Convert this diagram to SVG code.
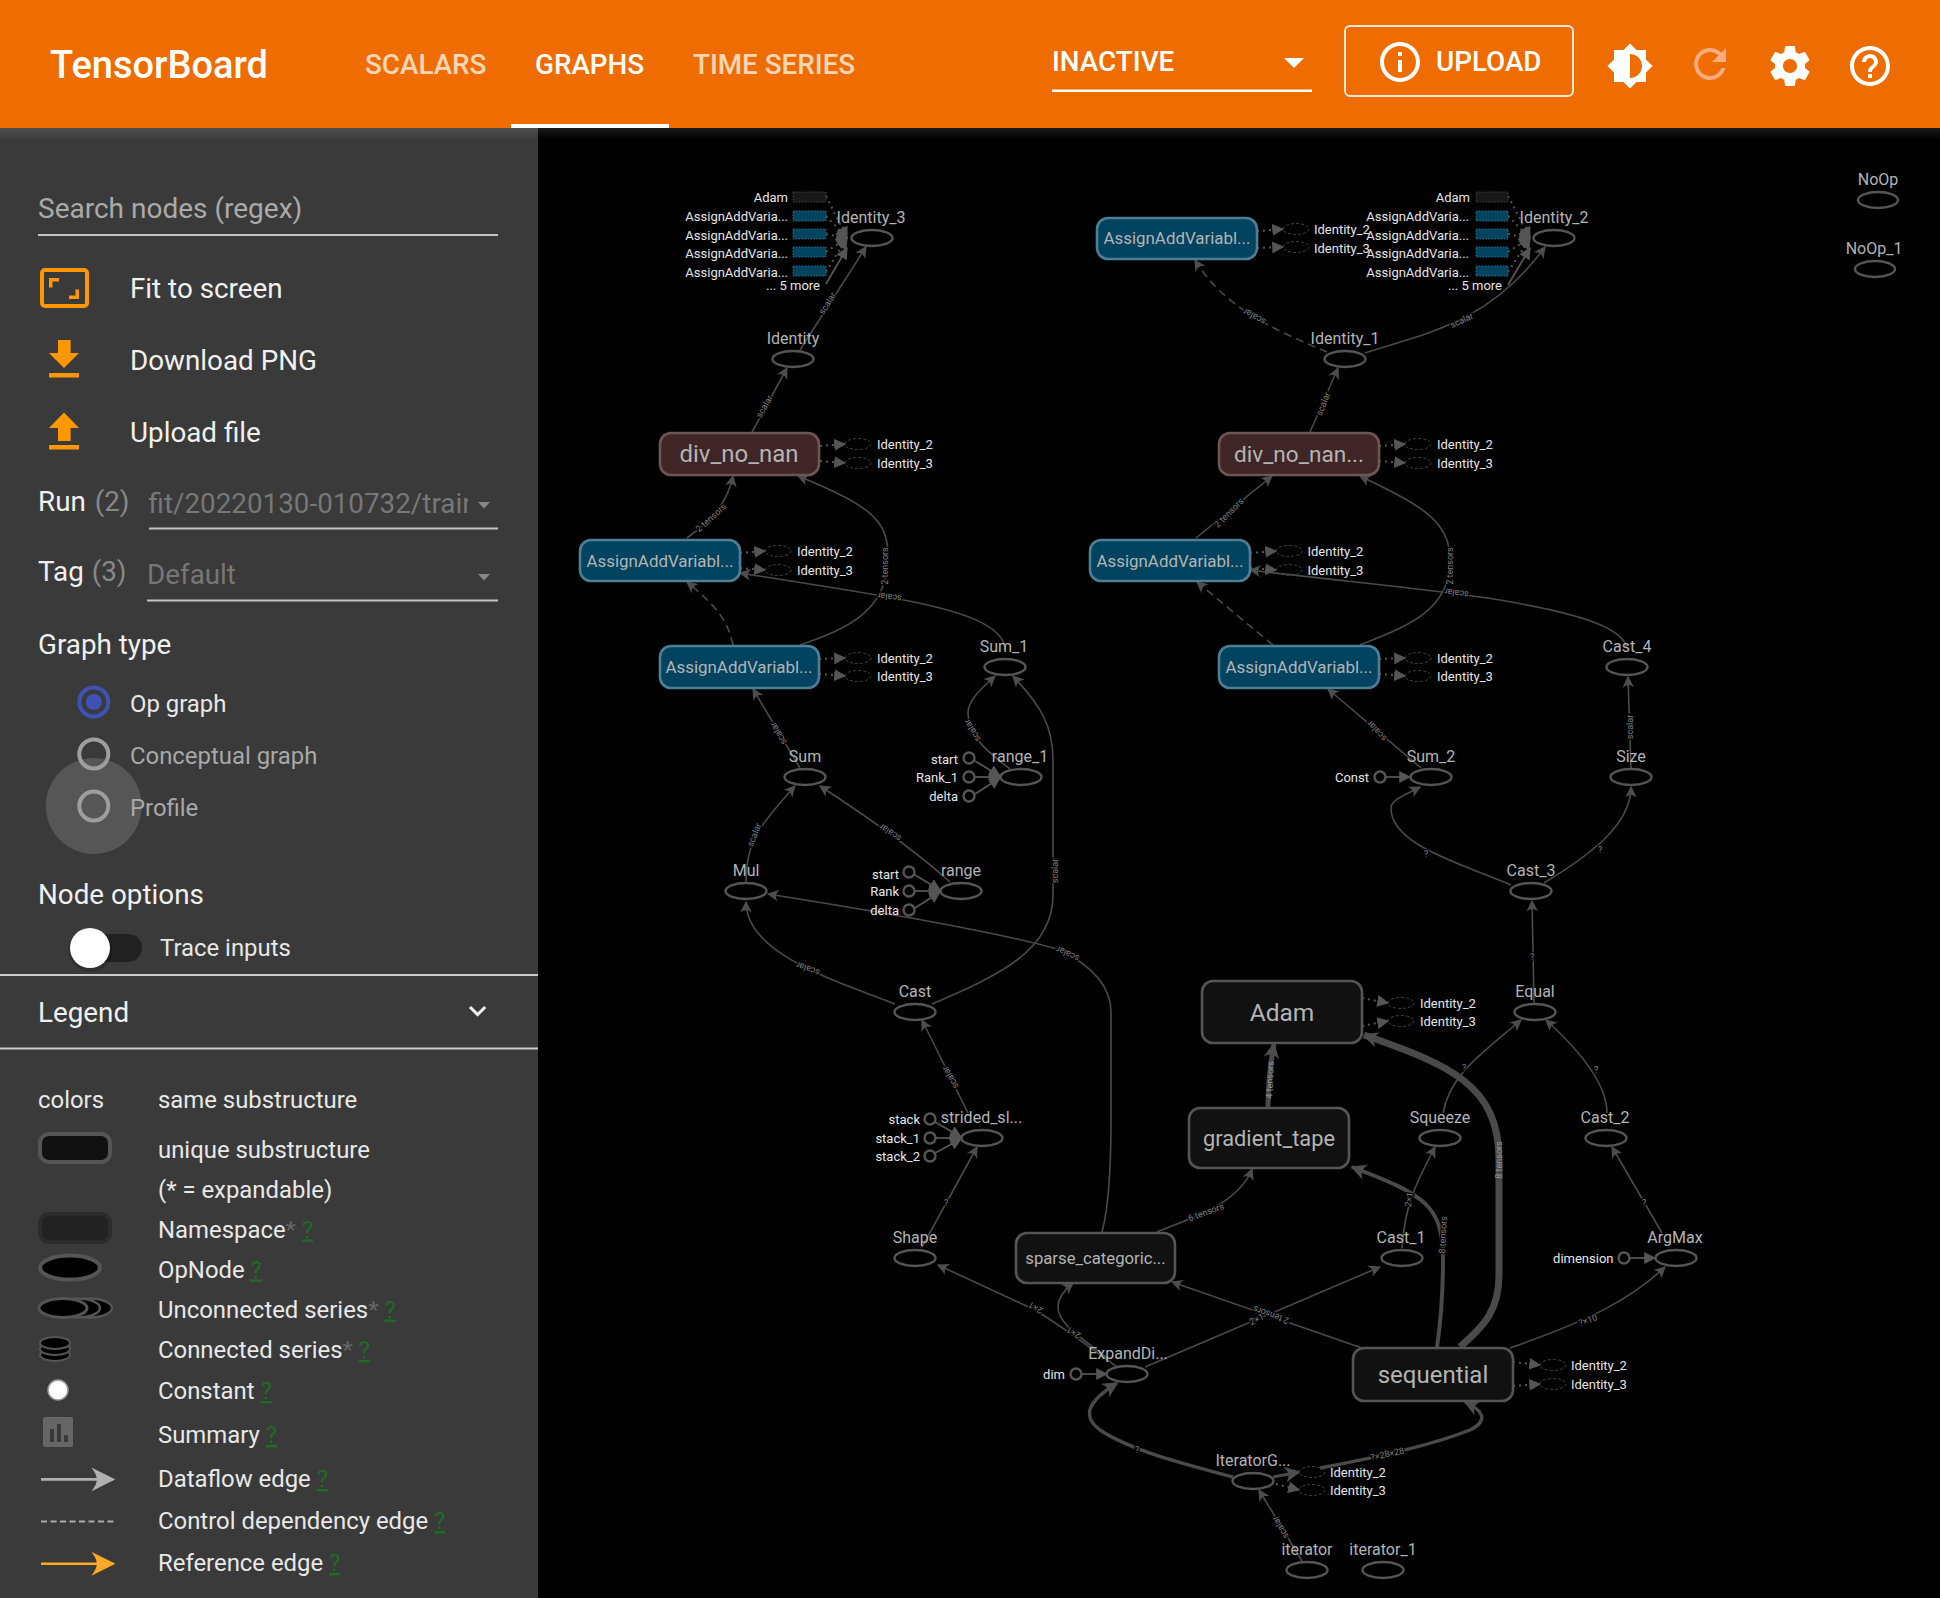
<svg xmlns="http://www.w3.org/2000/svg" width="1940" height="1598" viewBox="0 0 1940 1598">
<defs>
<marker id="a" markerUnits="userSpaceOnUse" markerWidth="12" markerHeight="12" viewBox="0 0 10 10" refX="9" refY="5" orient="auto"><path d="M0 0L10 5L0 10C3 6 3 4 0 0z" fill="#4d4d4d"/></marker>
<marker id="b" markerUnits="userSpaceOnUse" markerWidth="16" markerHeight="16" viewBox="0 0 10 10" refX="9" refY="5" orient="auto"><path d="M0 0L10 5L0 10C3 6 3 4 0 0z" fill="#4d4d4d"/></marker>
<marker id="c" markerUnits="userSpaceOnUse" markerWidth="12" markerHeight="12" viewBox="0 0 10 10" refX="9" refY="5" orient="auto"><path d="M0 0L10 5L0 10z" fill="#555"/></marker>
<marker id="lg" markerUnits="userSpaceOnUse" markerWidth="24" markerHeight="24" viewBox="0 0 10 10" refX="9" refY="5" orient="auto"><path d="M0 0L10 5L0 10C3 6 3 4 0 0z" fill="#b0b0b0"/></marker>
<marker id="lo" markerUnits="userSpaceOnUse" markerWidth="24" markerHeight="24" viewBox="0 0 10 10" refX="9" refY="5" orient="auto"><path d="M0 0L10 5L0 10C3 6 3 4 0 0z" fill="#ffa726"/></marker>
<linearGradient id="s1" x1="0" y1="0" x2="0" y2="1"><stop offset="0" stop-color="#4e4e4e"/><stop offset="1" stop-color="#3a3a3a"/></linearGradient>
<linearGradient id="s2" x1="0" y1="0" x2="0" y2="1"><stop offset="0" stop-color="#1c1c1c"/><stop offset="1" stop-color="#000"/></linearGradient>
<clipPath id="runclip"><rect x="145" y="480" width="323" height="45"/></clipPath>
</defs>
<style>
text{font-family:Roboto,"Noto Sans",sans-serif}
.e{fill:none;stroke:#4a4a4a;stroke-width:1.6;marker-end:url(#a)}
.d{fill:none;stroke:#4a4a4a;stroke-width:1.6;stroke-dasharray:8 5;marker-end:url(#a)}
.t3{stroke-width:3.4;marker-end:url(#b)}
.o{fill:none;stroke:#555;stroke-width:2;stroke-dasharray:2 4;marker-end:url(#c)}
.k{fill:none;stroke:#555;stroke-width:1.8;marker-end:url(#c)}
.el{font-size:9px;fill:#808080;text-anchor:middle;stroke:#000;stroke-width:2.5px;paint-order:stroke}
.op{fill:#000;stroke:#555;stroke-width:2.4}
.cn{fill:#000;stroke:#555;stroke-width:2.4}
.an{fill:none;stroke:#444;stroke-width:1;stroke-dasharray:3 2}
.nl{font-size:16px;fill:#b4b4b4;text-anchor:middle}
.at{font-size:13px;fill:#e6e6e6}
.ar{font-size:13px;fill:#e6e6e6;text-anchor:end}
.bx{stroke-width:2.6}
.mt{fill:#111;stroke:#555}
.bl{fill:#02435f;stroke:#4e7e94}
.rd{fill:#3f2526;stroke:#6d5555}
.bt{fill:#b4b4b4;text-anchor:middle}
.sm{fill:#02435f;stroke:#2a6f8c;stroke-width:1;stroke-dasharray:1.500 1.500}
.sd{fill:#181818;stroke:#444;stroke-width:1;stroke-dasharray:1.500 1.500}
.tab{font-size:27.8px;font-weight:500;fill:#fff}
.sb{font-size:27.8px;fill:#f0f0f0}
.lg{font-size:23.9px;fill:#e8e8e8}
.st{fill:#666}
.q{fill:#1f6b25;text-decoration:underline}
.un{stroke:#c4c4c4;stroke-width:2;fill:none}
</style>

<g id="background">
<rect width="1940" height="1598" fill="#000"/>
<rect x="538" y="128" width="1402" height="11" fill="url(#s2)"/>
<rect x="0" y="128" width="538" height="1470" fill="#3a3a3a"/>
<rect x="0" y="128" width="538" height="12" fill="url(#s1)"/>
<rect width="1940" height="128" fill="#ef6c00"/>
</g>

<g id="header">
<text x="50" y="77.500" font-size="38" font-weight="500" fill="#fff">TensorBoard</text>
<text x="365" y="74" class="tab" style="opacity:.72">SCALARS</text>
<text x="535" y="74" class="tab">GRAPHS</text>
<text x="693" y="74" class="tab" style="opacity:.72">TIME SERIES</text>
<rect x="511" y="124" width="158" height="4" fill="#fff"/>
<text x="1052" y="71" font-size="27.800" font-weight="500" fill="#fff">INACTIVE</text>
<path d="M1284 58h20l-10 10z" fill="#fff"/>
<rect x="1052" y="89.500" width="260" height="2.500" fill="#fff"/>
<rect x="1345" y="26" width="228" height="70" rx="5" fill="none" stroke="#fff" stroke-opacity=".85" stroke-width="2"/>
<path transform="translate(1376 38) scale(2)" fill="#fff" d="M11 7h2v2h-2zm0 4h2v6h-2zm1-9C6.48 2 2 6.48 2 12s4.48 10 10 10 10-4.48 10-10S17.52 2 12 2zm0 18c-4.41 0-8-3.59-8-8s3.59-8 8-8 8 3.59 8 8-3.59 8-8 8z"/>
<text x="1436" y="71" font-size="27.800" font-weight="500" fill="#fff">UPLOAD</text>
<path transform="translate(1606 42) scale(2)" fill="#fff" fill-rule="evenodd" d="M20 15.31L23.31 12 20 8.69V4h-4.69L12 .69 8.69 4H4v4.69L.69 12 4 15.31V20h4.69L12 23.31 15.31 20H20v-4.69zM12 18V6c3.31 0 6 2.69 6 6s-2.69 6-6 6z"/>
<path transform="translate(1686 40) scale(2)" fill="#f8ad7e" d="M17.65 6.35C16.2 4.9 14.21 4 12 4c-4.42 0-7.99 3.58-7.99 8s3.57 8 7.99 8c3.73 0 6.84-2.55 7.73-6h-2.08c-.82 2.33-3.04 4-5.65 4-3.31 0-6-2.69-6-6s2.69-6 6-6c1.66 0 3.14.69 4.22 1.78L13 11h7V4l-2.35 2.35z"/>
<path transform="translate(1766 42) scale(2)" fill="#fff" d="M19.43 12.98c.04-.32.07-.64.07-.98s-.03-.66-.07-.98l2.11-1.65c.19-.15.24-.42.12-.64l-2-3.46c-.12-.22-.39-.3-.61-.22l-2.49 1c-.52-.4-1.08-.73-1.69-.98l-.38-2.65C14.46 2.18 14.25 2 14 2h-4c-.25 0-.46.18-.49.42l-.38 2.65c-.61.25-1.17.59-1.69.98l-2.49-1c-.23-.09-.49 0-.61.22l-2 3.46c-.13.22-.07.49.12.64l2.11 1.65c-.04.32-.07.65-.07.98s.03.66.07.98l-2.11 1.65c-.19.15-.24.42-.12.64l2 3.46c.12.22.39.3.61.22l2.49-1c.52.4 1.08.73 1.69.98l.38 2.65c.03.24.24.42.49.42h4c.25 0 .46-.18.49-.42l.38-2.65c.61-.25 1.17-.59 1.69-.98l2.49 1c.23.09.49 0 .61-.22l2-3.46c.12-.22.07-.49-.12-.64l-2.11-1.65zM12 15.5c-1.93 0-3.5-1.57-3.5-3.5s1.57-3.5 3.5-3.5 3.5 1.57 3.5 3.5-1.57 3.5-3.5 3.5z"/>
<path transform="translate(1846 42) scale(2)" fill="#fff" d="M11 18h2v-2h-2v2zm1-16C6.48 2 2 6.48 2 12s4.48 10 10 10 10-4.48 10-10S17.52 2 12 2zm0 18c-4.41 0-8-3.59-8-8s3.59-8 8-8 8 3.59 8 8-3.59 8-8 8zm0-14c-2.21 0-4 1.79-4 4h2c0-1.1.9-2 2-2s2 .9 2 2c0 2-3 1.75-3 5h2c0-2.25 3-2.5 3-5 0-2.21-1.79-4-4-4z"/>
</g>

<g id="sidebar">
<text x="38" y="218" font-size="28" fill="#aaa">Search nodes (regex)</text>
<path class="un" d="M38 235H498"/>
<rect x="42" y="270" width="45" height="36" rx="3" fill="none" stroke="#ff9800" stroke-width="4"/>
<path d="M49 278h10v3.500h-6.500v6H49zM79 299H69v-3.500h6.500v-6H79z" fill="#ff9800"/>
<text x="130" y="298" class="sb">Fit to screen</text>
<path d="M58 340h12.600v13H79L64 368 49 353h9zM49 373h30v4.500H49z" fill="#ff9800"/>
<text x="130" y="370" class="sb">Download PNG</text>
<path d="M64 412.500 79 428h-8.400v13H58V428h-9zM49 445h30v4.500H49z" fill="#ff9800"/>
<text x="130" y="442" class="sb">Upload file</text>
<text x="38" y="510.500" class="sb">Run <tspan dx="2" fill="#888">(2)</tspan></text>
<text x="148.500" y="513" font-size="27.800" fill="#777" clip-path="url(#runclip)">fit/20220130-010732/train</text>
<path d="M478 502h12l-6 6.500z" fill="#888"/>
<path class="un" d="M149 528.600H498"/>
<text x="38" y="581" class="sb">Tag <tspan dx="1" fill="#888">(3)</tspan></text>
<text x="147" y="584" font-size="27.800" fill="#777">Default</text>
<path d="M478 574h12l-6 6.500z" fill="#888"/>
<path class="un" d="M147 600.600H498"/>
<text x="38" y="654" class="sb">Graph type</text>
<circle cx="93.800" cy="806" r="48" fill="#565656"/>
<circle cx="93.800" cy="702" r="14.500" fill="none" stroke="#3f51b5" stroke-width="4"/>
<circle cx="93.800" cy="702" r="8" fill="#3f51b5"/>
<text x="130" y="711.500" class="lg">Op graph</text>
<circle cx="93.800" cy="754" r="14.500" fill="none" stroke="#9e9e9e" stroke-width="4"/>
<text x="130" y="764" class="lg" style="fill:#a8a8a8">Conceptual graph</text>
<circle cx="93.800" cy="806" r="14.500" fill="none" stroke="#9e9e9e" stroke-width="4"/>
<text x="130" y="816" class="lg" style="fill:#a8a8a8">Profile</text>
<text x="38" y="904" class="sb">Node options</text>
<rect x="70" y="934" width="72" height="28" rx="14" fill="#222"/>
<circle cx="90.500" cy="950" r="22" fill="#000" opacity=".18"/>
<circle cx="90" cy="948" r="20" fill="#fff"/>
<text x="160" y="956" class="lg">Trace inputs</text>
<path d="M0 975H538" stroke="#ccc" stroke-width="2"/>
<text x="38" y="1022" class="sb">Legend</text>
<path d="M470 1007l7.600 7.600 7.600-7.600" fill="none" stroke="#eee" stroke-width="3"/>
<path d="M0 1048.600H538" stroke="#ccc" stroke-width="2"/>
</g>

<g id="legend">
<text x="38" y="1107.500" class="lg">colors</text>
<text x="158" y="1107.500" class="lg">same substructure</text>
<rect x="40" y="1134" width="70" height="28" rx="9" fill="#111" stroke="#555" stroke-width="4"/>
<text x="158" y="1157.500" class="lg">unique substructure</text>
<text x="158" y="1197.500" class="lg">(* = expandable)</text>
<rect x="40" y="1214" width="70" height="28" rx="9" fill="#222" stroke="#2c2c2c" stroke-width="4"/>
<text x="158" y="1237.500" class="lg">Namespace<tspan class="st">*</tspan> <tspan class="q">?</tspan></text>
<ellipse cx="70" cy="1267.600" rx="30" ry="12" fill="#000" stroke="#555" stroke-width="4"/>
<text x="158" y="1277.500" class="lg">OpNode <tspan class="q">?</tspan></text>
<ellipse cx="90" cy="1308" rx="22" ry="9.500" fill="#000" stroke="#555" stroke-width="2.500"/>
<ellipse cx="78" cy="1308" rx="22" ry="9.500" fill="#000" stroke="#555" stroke-width="2.500"/>
<ellipse cx="63" cy="1308" rx="24" ry="9.500" fill="#000" stroke="#555" stroke-width="3"/>
<text x="158" y="1317.500" class="lg">Unconnected series<tspan class="st">*</tspan> <tspan class="q">?</tspan></text>
<ellipse cx="55" cy="1355" rx="15" ry="6" fill="#000" stroke="#555" stroke-width="2"/>
<ellipse cx="55" cy="1349" rx="15" ry="6" fill="#000" stroke="#555" stroke-width="2"/>
<ellipse cx="55" cy="1343" rx="15" ry="6" fill="#000" stroke="#555" stroke-width="2"/>
<text x="158" y="1358" class="lg">Connected series<tspan class="st">*</tspan> <tspan class="q">?</tspan></text>
<circle cx="58" cy="1390" r="10" fill="#fff" stroke="#999" stroke-width="1.500"/>
<text x="158" y="1399" class="lg">Constant <tspan class="q">?</tspan></text>
<rect x="43" y="1417" width="30" height="30" rx="2" fill="#666"/>
<path d="M50 1429h4v13h-4zM57 1424h4v18h-4zM64 1435h4v7h-4z" fill="#3a3a3a"/>
<text x="158" y="1443" class="lg">Summary <tspan class="q">?</tspan></text>
<path d="M41 1479.400H113" stroke="#b0b0b0" stroke-width="2.600" fill="none" marker-end="url(#lg)"/>
<text x="158" y="1487" class="lg">Dataflow edge <tspan class="q">?</tspan></text>
<path d="M41 1521.600H114" stroke="#aaa" stroke-width="2" stroke-dasharray="6 3.500" fill="none"/>
<text x="158" y="1529" class="lg">Control dependency edge <tspan class="q">?</tspan></text>
<path d="M41 1563.800H113" stroke="#ffa726" stroke-width="2.600" fill="none" marker-end="url(#lo)"/>
<text x="158" y="1571" class="lg">Reference edge <tspan class="q">?</tspan></text>
</g>

<g id="connectors">
<path class="e" d="M800 350L866 247"/>
<path class="e" d="M752 432L787 368"/>
<path class="e" d="M687 538C715 518 728 500 733 476"/>
<path class="e" d="M800 645C850 628 888 610 888 556C888 520 870 505 798 476"/>
<path class="e" d="M1005 650C1005 625 960 610 893 598C850 590 790 581 740 573"/>
<path class="d" d="M733 645C728 620 715 605 687 582"/>
<path class="e" d="M800 768L753 689"/>
<path class="e" d="M746 882C746 845 755 830 795 786"/>
<path class="e" d="M950 882C920 855 880 825 820 786"/>
<path class="e" d="M1010 769C985 750 968 735 968 713C968 700 982 688 995 676"/>
<path class="e" d="M932 1004C1000 975 1053 950 1053 895L1053 760C1053 725 1040 705 1013 676"/>
<path class="e" d="M895 1004C840 982 746 955 746 902"/>
<path class="e" d="M1102 1232C1108 1210 1111 1180 1111 1120L1111 1012C1111 985 1090 965 1060 950C1010 935 900 915 768 894"/>
<path class="e" d="M968 1113L922 1020"/>
<path class="e" d="M922 1247L977 1147"/>
<path class="e" d="M1117 1367C1080 1340 1060 1325 1035 1310L938 1265"/>
<path class="e" d="M1107 1358C1085 1340 1058 1325 1058 1307C1058 1298 1064 1290 1073 1283"/>
<path class="e" d="M1145 1367L1380 1267"/>
<path class="e" d="M1362 1348L1172 1282"/>
<path class="e" d="M1157 1232C1190 1218 1238 1205 1252 1169"/>
<path class="e t3" d="M1233 1477C1180 1463 1130 1450 1100 1430C1080 1415 1090 1400 1117 1383"/>
<path class="e t3" d="M1320 1468C1390 1455 1440 1442 1470 1430C1490 1420 1482 1410 1465 1402"/>
<path class="e" d="M1302 1561L1259 1490"/>
<path class="d" d="M1327 352C1280 332 1225 310 1195 260"/>
<path class="e" d="M1365 353C1430 332 1490 322 1545 247"/>
<path class="e" d="M1310 432L1338 368"/>
<path class="e" d="M1196 538L1272 476"/>
<path class="e" d="M1360 645C1410 625 1450 610 1450 560C1450 520 1420 505 1360 476"/>
<path class="e" d="M1627 647C1620 625 1570 612 1500 600C1440 590 1330 580 1250 570"/>
<path class="d" d="M1273 645L1197 582"/>
<path class="e" d="M1421 768L1328 689"/>
<path class="e" d="M1511 885C1460 863 1391 845 1391 808C1391 800 1405 795 1420 787"/>
<path class="e" d="M1544 883C1590 855 1631 825 1631 787"/>
<path class="e" d="M1631 768L1628 677"/>
<path class="e" d="M1534 1003L1532 901"/>
<path class="e" d="M1443 1113C1450 1075 1480 1055 1521 1020"/>
<path class="e" d="M1607 1113C1607 1090 1590 1060 1546 1020"/>
<path class="e" d="M1662 1233L1612 1147"/>
<path class="e" d="M1402 1248C1405 1205 1415 1185 1435 1147"/>
<path class="e" d="M1510 1348C1590 1320 1630 1300 1665 1267"/>
<path class="e t3" d="M1437 1347C1441 1320 1443 1290 1443 1260C1443 1205 1425 1195 1352 1167" style="stroke-width:4"/>
<path class="e" d="M1460 1347C1485 1325 1499 1310 1499 1275L1499 1160C1499 1085 1450 1065 1364 1035" style="stroke-width:7;marker-end:url(#b)"/>
<path class="e" d="M1268 1107C1268 1085 1270 1065 1274 1044" style="stroke-width:5;marker-end:url(#b)"/>
<g>
<path class="o" d="M826 196L847 238"/><path class="o" d="M826 216L847 238"/><path class="o" d="M826 234L847 238"/><path class="o" d="M826 252L847 238"/><path class="o" d="M826 272L847 238"/><path class="k" d="M826 284L847 248"/>
<path class="o" d="M1508 196L1530 238"/><path class="o" d="M1508 216L1530 238"/><path class="o" d="M1508 234L1530 238"/><path class="o" d="M1508 252L1530 238"/><path class="o" d="M1508 272L1530 238"/><path class="k" d="M1508 285L1530 248"/>
<path class="o" d="M820 446L845 444"/><path class="o" d="M820 461L845 463"/>
<path class="o" d="M1379 446L1405 444"/><path class="o" d="M1379 461L1405 463"/>
<path class="o" d="M740 553L765 551"/><path class="o" d="M740 568L765 570"/>
<path class="o" d="M1250 553L1276 551"/><path class="o" d="M1250 568L1276 570"/>
<path class="o" d="M819 659L845 658"/><path class="o" d="M819 674L845 676"/>
<path class="o" d="M1379 659L1405 658"/><path class="o" d="M1379 674L1405 676"/>
<path class="o" d="M1257 231L1283 229"/><path class="o" d="M1257 248L1283 247"/>
<path class="o" d="M1362 998L1388 1003"/><path class="o" d="M1362 1026L1388 1021"/>
<path class="o" d="M1513 1362L1540 1365"/><path class="o" d="M1513 1386L1540 1384"/>
<path class="o" d="M1276 1484L1299 1490"/><path class="e" d="M1273 1477L1299 1472" style="stroke-width:3;marker-end:url(#b)"/>
<path class="k" d="M975 761L1000 776"/><path class="k" d="M975 777H1000"/><path class="k" d="M975 794L1000 778"/>
<path class="k" d="M915 875L940 890"/><path class="k" d="M915 891H940"/><path class="k" d="M915 908L940 892"/>
<path class="k" d="M935 1122L961 1137"/><path class="k" d="M936 1138H961"/><path class="k" d="M935 1153L961 1139"/>
<path class="k" d="M1386 777H1410"/><path class="k" d="M1082 1374H1107"/><path class="k" d="M1630 1258H1655"/>
</g>
<g>
<text class="el" transform="translate(830 305) rotate(-58)">scalar</text>
<text class="el" transform="translate(767 408) rotate(-60)">scalar</text>
<text class="el" transform="translate(713 520) rotate(-42)">2 tensors</text>
<text class="el" transform="translate(888 566) rotate(-90)">2 tensors</text>
<text class="el" transform="translate(890 594) rotate(188)">scalar</text>
<text class="el" transform="translate(781 732) rotate(240)">scalar</text>
<text class="el" transform="translate(757 836) rotate(-68)">scalar</text>
<text class="el" transform="translate(892 830) rotate(215)">scalar</text>
<text class="el" transform="translate(975 729) rotate(240)">scalar</text>
<text class="el" transform="translate(1058 871) rotate(-90)">scalar</text>
<text class="el" transform="translate(809 966) rotate(200)">scalar</text>
<text class="el" transform="translate(1069 951) rotate(205)">scalar</text>
<text class="el" transform="translate(953 1076) rotate(240)">scalar</text>
<text class="el" transform="translate(946 1206)">?</text>
<text class="el" transform="translate(1037 1305) rotate(210)">2×1</text>
<text class="el" transform="translate(1075 1330) rotate(210)">2×1</text>
<text class="el" transform="translate(1258 1322) rotate(-25)">2×1</text>
<text class="el" transform="translate(1272 1312) rotate(200)">2 tensors</text>
<text class="el" transform="translate(1207 1215) rotate(-20)">6 tensors</text>
<text class="el" transform="translate(1137 1453)">?</text>
<text class="el" transform="translate(1388 1457) rotate(-12)">?×28×28</text>
<text class="el" transform="translate(1283 1526) rotate(240)">scalar</text>
<text class="el" transform="translate(1256 314) rotate(210)">scalar</text>
<text class="el" transform="translate(1463 323) rotate(-25)">scalar</text>
<text class="el" transform="translate(1326 405) rotate(-68)">scalar</text>
<text class="el" transform="translate(1231 515) rotate(-45)">2 tensors</text>
<text class="el" transform="translate(1453 566) rotate(-90)">2 tensors</text>
<text class="el" transform="translate(1457 590) rotate(188)">scalar</text>
<text class="el" transform="translate(1379 729) rotate(228)">scalar</text>
<text class="el" transform="translate(1426 857)">?</text>
<text class="el" transform="translate(1600 853)">?</text>
<text class="el" transform="translate(1633 727) rotate(-90)">scalar</text>
<text class="el" transform="translate(1532 960)">?</text>
<text class="el" transform="translate(1464 1071)">?</text>
<text class="el" transform="translate(1596 1073)">?</text>
<text class="el" transform="translate(1644 1206)">?</text>
<text class="el" transform="translate(1412 1200) rotate(-80)">2×1</text>
<text class="el" transform="translate(1589 1323) rotate(-20)">?×10</text>
<text class="el" transform="translate(1446 1235) rotate(-87)">8 tensors</text>
<text class="el" style="stroke:none;fill:#999" transform="translate(1502 1160) rotate(-90)">8 tensors</text>
<text class="el" style="stroke:none;fill:#999" transform="translate(1273 1080) rotate(-88)">4 tensors</text>
</g>
</g>

<g id="n-identity_3"><ellipse class="op" cx="872" cy="238" rx="20.500" ry="8"/><text class="nl" x="871" y="223">Identity_3</text>
<text class="ar" x="788" y="202">Adam</text><rect class="sd" x="793" y="192" width="33" height="10"/>
<text class="ar" x="788" y="221">AssignAddVaria...</text><rect class="sm" x="793" y="211" width="33" height="10"/>
<text class="ar" x="788" y="240">AssignAddVaria...</text><rect class="sm" x="793" y="229" width="33" height="10"/>
<text class="ar" x="788" y="258">AssignAddVaria...</text><rect class="sm" x="793" y="247" width="33" height="10"/>
<text class="ar" x="788" y="277">AssignAddVaria...</text><rect class="sm" x="793" y="266" width="33" height="10"/>
<text class="ar" x="820" y="290">... 5 more</text></g>
<g id="n-identity"><ellipse class="op" cx="793" cy="359" rx="20.500" ry="8"/><text class="nl" x="793" y="344">Identity</text></g>
<g id="n-div_no_nan"><rect class="bx rd" x="660" y="433" width="159" height="42" rx="11"/><text class="bt" x="739" y="462" font-size="24">div_no_nan</text>
<ellipse class="an" cx="858" cy="444" rx="13" ry="5.500"/><ellipse class="an" cx="858" cy="463" rx="13" ry="5.500"/><text class="at" x="877" y="449">Identity_2</text><text class="at" x="877" y="468">Identity_3</text></g>
<g id="n-assign_a"><rect class="bx bl" x="580" y="540" width="160" height="41" rx="11"/><text class="bt" x="660" y="567" font-size="16.900">AssignAddVariabl...</text>
<ellipse class="an" cx="778" cy="551" rx="13" ry="5.500"/><ellipse class="an" cx="778" cy="570" rx="13" ry="5.500"/><text class="at" x="797" y="556">Identity_2</text><text class="at" x="797" y="575">Identity_3</text></g>
<g id="n-assign_b"><rect class="bx bl" x="660" y="646" width="159" height="42" rx="11"/><text class="bt" x="739" y="673" font-size="16.900">AssignAddVariabl...</text>
<ellipse class="an" cx="858" cy="658" rx="13" ry="5.500"/><ellipse class="an" cx="858" cy="676" rx="13" ry="5.500"/><text class="at" x="877" y="663">Identity_2</text><text class="at" x="877" y="681">Identity_3</text></g>
<g id="n-sum_1"><ellipse class="op" cx="1005" cy="667" rx="20.500" ry="8"/><text class="nl" x="1004" y="652">Sum_1</text></g>
<g id="n-sum"><ellipse class="op" cx="805" cy="777" rx="20.500" ry="8"/><text class="nl" x="805" y="762">Sum</text></g>
<g id="n-range_1"><ellipse class="op" cx="1021" cy="777" rx="20.500" ry="8"/><text class="nl" x="1020" y="762">range_1</text>
<circle class="cn" cx="969" cy="758" r="5.500"/><circle class="cn" cx="969" cy="777" r="5.500"/><circle class="cn" cx="969" cy="796" r="5.500"/>
<text class="ar" x="958" y="764">start</text><text class="ar" x="958" y="782">Rank_1</text><text class="ar" x="958" y="801">delta</text></g>
<g id="n-mul"><ellipse class="op" cx="746" cy="891" rx="20.500" ry="8"/><text class="nl" x="746" y="876">Mul</text></g>
<g id="n-range"><ellipse class="op" cx="961" cy="891" rx="20.500" ry="8"/><text class="nl" x="961" y="876">range</text>
<circle class="cn" cx="909" cy="872" r="5.500"/><circle class="cn" cx="909" cy="891" r="5.500"/><circle class="cn" cx="909" cy="910" r="5.500"/>
<text class="ar" x="899" y="879">start</text><text class="ar" x="899" y="896">Rank</text><text class="ar" x="899" y="915">delta</text></g>
<g id="n-cast"><ellipse class="op" cx="915" cy="1012" rx="20.500" ry="8"/><text class="nl" x="915" y="997">Cast</text></g>
<g id="n-strided"><ellipse class="op" cx="982" cy="1138" rx="20.500" ry="8"/><text class="nl" x="981.500" y="1123">strided_sl...</text>
<circle class="cn" cx="930" cy="1119" r="5.500"/><circle class="cn" cx="930" cy="1138" r="5.500"/><circle class="cn" cx="930" cy="1156" r="5.500"/>
<text class="ar" x="920" y="1124">stack</text><text class="ar" x="920" y="1143">stack_1</text><text class="ar" x="920" y="1161">stack_2</text></g>
<g id="n-shape"><ellipse class="op" cx="915" cy="1258" rx="20.500" ry="8"/><text class="nl" x="915" y="1243">Shape</text></g>
<g id="n-sparse"><rect class="bx mt" x="1016" y="1233" width="159" height="50" rx="11"/><text class="bt" x="1095.500" y="1264" font-size="16.700">sparse_categoric...</text></g>
<g id="n-gradient_tape"><rect class="bx mt" x="1189" y="1108" width="160" height="60" rx="11"/><text class="bt" x="1269" y="1146" font-size="21.800">gradient_tape</text></g>
<g id="n-expanddims"><ellipse class="op" cx="1127" cy="1374" rx="20.500" ry="8"/><text class="nl" x="1128" y="1359">ExpandDi...</text>
<circle class="cn" cx="1076" cy="1374" r="5.500"/><text class="ar" x="1065" y="1379">dim</text></g>
<g id="n-iteratorg"><ellipse class="op" cx="1253" cy="1481" rx="20.500" ry="8"/><text class="nl" x="1253" y="1466">IteratorG...</text>
<ellipse class="an" cx="1312" cy="1472" rx="13" ry="5.500"/><ellipse class="an" cx="1312" cy="1490" rx="13" ry="5.500"/><text class="at" x="1330" y="1477">Identity_2</text><text class="at" x="1330" y="1495">Identity_3</text></g>
<g id="n-iterator"><ellipse class="op" cx="1307" cy="1570" rx="20.500" ry="8"/><text class="nl" x="1307" y="1555">iterator</text></g>
<g id="n-iterator_1"><ellipse class="op" cx="1383" cy="1570" rx="20.500" ry="8"/><text class="nl" x="1383" y="1555">iterator_1</text></g>

<g id="n-assign_top"><rect class="bx bl" x="1097" y="218" width="160" height="41" rx="11"/><text class="bt" x="1177" y="244" font-size="16.900">AssignAddVariabl...</text>
<ellipse class="an" cx="1296" cy="229" rx="13" ry="5.500"/><ellipse class="an" cx="1296" cy="247" rx="13" ry="5.500"/><text class="at" x="1314" y="234">Identity_2</text><text class="at" x="1314" y="253">Identity_3</text></g>
<g id="n-identity_2"><ellipse class="op" cx="1554" cy="238" rx="20.500" ry="8"/><text class="nl" x="1554" y="223">Identity_2</text>
<text class="ar" x="1470" y="202">Adam</text><rect class="sd" x="1476" y="192" width="32" height="10"/>
<text class="ar" x="1469" y="221">AssignAddVaria...</text><rect class="sm" x="1476" y="211" width="32" height="10"/>
<text class="ar" x="1469" y="240">AssignAddVaria...</text><rect class="sm" x="1476" y="229" width="32" height="10"/>
<text class="ar" x="1469" y="258">AssignAddVaria...</text><rect class="sm" x="1476" y="247" width="32" height="10"/>
<text class="ar" x="1469" y="277">AssignAddVaria...</text><rect class="sm" x="1476" y="266" width="32" height="10"/>
<text class="ar" x="1502" y="290">... 5 more</text></g>
<g id="n-identity_1"><ellipse class="op" cx="1345" cy="359" rx="20.500" ry="8"/><text class="nl" x="1345" y="344">Identity_1</text></g>
<g id="n-div_no_nan_1"><rect class="bx rd" x="1219" y="433" width="160" height="42" rx="11"/><text class="bt" x="1299" y="462" font-size="22.600">div_no_nan...</text>
<ellipse class="an" cx="1418" cy="444" rx="13" ry="5.500"/><ellipse class="an" cx="1418" cy="463" rx="13" ry="5.500"/><text class="at" x="1437" y="449">Identity_2</text><text class="at" x="1437" y="468">Identity_3</text></g>
<g id="n-assign_c"><rect class="bx bl" x="1090" y="540" width="160" height="41" rx="11"/><text class="bt" x="1170" y="567" font-size="16.900">AssignAddVariabl...</text>
<ellipse class="an" cx="1289" cy="551" rx="13" ry="5.500"/><ellipse class="an" cx="1289" cy="570" rx="13" ry="5.500"/><text class="at" x="1307.500" y="556">Identity_2</text><text class="at" x="1307.500" y="575">Identity_3</text></g>
<g id="n-assign_d"><rect class="bx bl" x="1219" y="646" width="160" height="42" rx="11"/><text class="bt" x="1299" y="673" font-size="16.900">AssignAddVariabl...</text>
<ellipse class="an" cx="1418" cy="658" rx="13" ry="5.500"/><ellipse class="an" cx="1418" cy="676" rx="13" ry="5.500"/><text class="at" x="1437" y="663">Identity_2</text><text class="at" x="1437" y="681">Identity_3</text></g>
<g id="n-cast_4"><ellipse class="op" cx="1627" cy="667" rx="20.500" ry="8"/><text class="nl" x="1627" y="652">Cast_4</text></g>
<g id="n-sum_2"><ellipse class="op" cx="1431" cy="777" rx="20.500" ry="8"/><text class="nl" x="1431" y="762">Sum_2</text>
<circle class="cn" cx="1380" cy="777" r="5.500"/><text class="ar" x="1369" y="782">Const</text></g>
<g id="n-size"><ellipse class="op" cx="1631" cy="777" rx="20.500" ry="8"/><text class="nl" x="1631" y="762">Size</text></g>
<g id="n-cast_3"><ellipse class="op" cx="1531" cy="891" rx="20.500" ry="8"/><text class="nl" x="1531" y="876">Cast_3</text></g>
<g id="n-equal"><ellipse class="op" cx="1535" cy="1012" rx="20.500" ry="8"/><text class="nl" x="1535" y="997">Equal</text></g>
<g id="n-adam"><rect class="bx mt" x="1202" y="981" width="160" height="62" rx="11"/><text class="bt" x="1282" y="1021" font-size="24.500">Adam</text>
<ellipse class="an" cx="1401" cy="1003" rx="13" ry="5.500"/><ellipse class="an" cx="1401" cy="1021" rx="13" ry="5.500"/><text class="at" x="1420" y="1008">Identity_2</text><text class="at" x="1420" y="1026">Identity_3</text></g>
<g id="n-squeeze"><ellipse class="op" cx="1440" cy="1138" rx="20.500" ry="8"/><text class="nl" x="1440" y="1123">Squeeze</text></g>
<g id="n-cast_2"><ellipse class="op" cx="1606" cy="1138" rx="20.500" ry="8"/><text class="nl" x="1605" y="1123">Cast_2</text></g>
<g id="n-cast_1"><ellipse class="op" cx="1402" cy="1258" rx="20.500" ry="8"/><text class="nl" x="1401" y="1243">Cast_1</text></g>
<g id="n-argmax"><ellipse class="op" cx="1676" cy="1258" rx="20.500" ry="8"/><text class="nl" x="1675" y="1243">ArgMax</text>
<circle class="cn" cx="1624" cy="1258" r="5.500"/><text class="ar" x="1613.500" y="1263">dimension</text></g>
<g id="n-sequential"><rect class="bx mt" x="1353" y="1348" width="160" height="53" rx="11"/><text class="bt" x="1433" y="1383" font-size="24">sequential</text>
<ellipse class="an" cx="1553" cy="1365" rx="13" ry="5.500"/><ellipse class="an" cx="1553" cy="1384" rx="13" ry="5.500"/><text class="at" x="1571" y="1370">Identity_2</text><text class="at" x="1571" y="1389">Identity_3</text></g>
<g id="n-noop"><ellipse class="op" cx="1878" cy="200" rx="20" ry="8"/><text class="nl" x="1878" y="185">NoOp</text></g>
<g id="n-noop_1"><ellipse class="op" cx="1875" cy="269" rx="20" ry="8"/><text class="nl" x="1874" y="254">NoOp_1</text></g>
</svg>
